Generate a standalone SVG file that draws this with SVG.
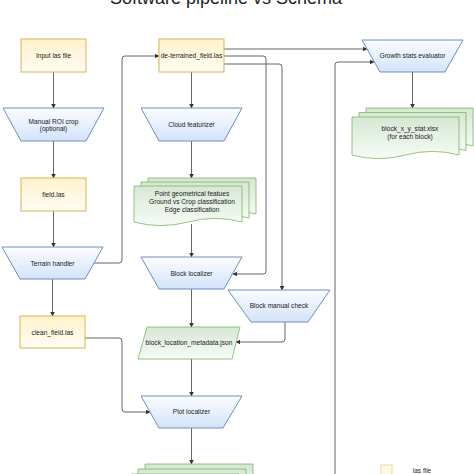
<svg xmlns="http://www.w3.org/2000/svg" width="474" height="474" viewBox="0 0 474 474">
<defs>
<linearGradient id="gy" x1="0" y1="0" x2="0" y2="1"><stop offset="0" stop-color="#fff2cc"/><stop offset="1" stop-color="#fffcf3"/></linearGradient>
<linearGradient id="gb" x1="0" y1="0" x2="0" y2="1"><stop offset="0" stop-color="#fbfdff"/><stop offset="1" stop-color="#d3e3fa"/></linearGradient>
<linearGradient id="gg" x1="0" y1="0" x2="0" y2="1"><stop offset="0" stop-color="#d5e8d4"/><stop offset="1" stop-color="#f7fbf6"/></linearGradient>
<marker id="ar" viewBox="0 0 10 10" refX="9" refY="5" markerWidth="4.5" markerHeight="4.5" orient="auto" markerUnits="userSpaceOnUse"><path d="M0,0 L10,5 L0,10 Z" fill="#333"/></marker>
<style>
.y{fill:url(#gy);stroke:#d6b656;stroke-width:1}
.b{fill:url(#gb);stroke:#6c8ebf;stroke-width:1}
.g{fill:url(#gg);stroke:#82b366;stroke-width:0.8}
.t{font-family:"Liberation Sans",Arial,sans-serif;font-size:6.6px;fill:#222;text-anchor:middle}
.c{fill:none;stroke:#555;stroke-width:0.9;marker-end:url(#ar)}
</style>
</defs>
<rect width="474" height="474" fill="#ffffff"/>
<text x="110" y="4" font-family="'Liberation Sans',Arial,sans-serif" font-size="18" fill="#222">Software pipeline vs Schema</text>

<g id="connectors">
<path class="c" d="M53.5,72 V108"/>
<path class="c" d="M53.5,141 V178"/>
<path class="c" d="M53.5,211 V247"/>
<path class="c" d="M52.5,279 V316"/>
<path class="c" d="M94,263 H119 Q122,263 122,260 V59 Q122,56 125,56 H159"/>
<path class="c" d="M85,338 H119 Q122,338 122,341 V409 Q122,412 125,412 H150"/>
<path class="c" d="M191.5,72 V108"/>
<path class="c" d="M191.5,141 V178"/>
<path class="c" d="M191.5,224 V257"/>
<path class="c" d="M191.5,289 V327"/>
<path class="c" d="M191.5,359 V396"/>
<path class="c" d="M191.5,428 V464"/>
<path class="c" d="M224,49 H367"/>
<path class="c" d="M224,56 H263 Q266,56 266,59 V271 Q266,274 263,274 H233"/>
<path class="c" d="M224,64 H279 Q282,64 282,67 V290"/>
<path class="c" d="M285,322 V339 Q285,342 282,342 H236"/>
<path class="c" d="M335,474 V65 Q335,62 338,62 H374"/>
<path class="c" d="M412.5,72 V108"/>
</g>

<g id="input"><rect class="y" x="21" y="39" width="65" height="33"/><text class="t" x="53.5" y="58">Input las file</text></g>
<g id="roi"><polygon class="b" points="3,108 104,108 86,141 21,141"/><text class="t" x="53.5" y="123.5">Manual ROI crop</text><text class="t" x="53.5" y="131">(optional)</text></g>
<g id="field"><rect class="y" x="21" y="178" width="65" height="33"/><text class="t" x="53.5" y="197">field.las</text></g>
<g id="terrain"><polygon class="b" points="2,247 103,247 85,279 20,279"/><text class="t" x="52.5" y="265.5">Terrain handler</text></g>
<g id="clean"><rect class="y" x="20" y="316" width="65" height="32"/><text class="t" x="52.5" y="334.5">clean_field.las</text></g>

<g id="deterrained"><rect class="y" x="159" y="39" width="65" height="33"/><text class="t" x="191.5" y="58">de-terrained_field.las</text></g>
<g id="cloud"><polygon class="b" points="141,108 242,108 224,141 159,141"/><text class="t" x="191.5" y="127">Cloud featurizer</text></g>
<g id="features">
<path class="g" d="M148,178 H256 V214 Q229,206.8 202,214 Q175,221.2 148,214 Z"/>
<path class="g" d="M141,182 H249 V218 Q222,210.8 195,218 Q168,225.2 141,218 Z"/>
<path class="g" d="M134,186 H242 V222 Q215,214.8 188,222 Q161,229.2 134,222 Z"/>
<text class="t" x="192" y="196.3">Point geometrical featues</text>
<text class="t" x="192" y="204.3">Ground vs Crop classification</text>
<text class="t" x="192" y="212.3">Edge classification</text>
</g>
<g id="blockloc"><polygon class="b" points="141,257 242,257 224,289 159,289"/><text class="t" x="191.5" y="276">Block localizer</text></g>
<g id="manualcheck"><polygon class="b" points="228,290 330,290 308,322 251,322"/><text class="t" x="279" y="308">Block manual check</text></g>
<g id="json"><polygon class="g" points="147,327 240,327 232,359 138,359"/><text class="t" x="189" y="345">block_location_metadata.json</text></g>
<g id="plotloc"><polygon class="b" points="141,396 242,396 223,428 159,428"/><text class="t" x="191.5" y="414">Plot localizer</text></g>
<g id="plotfiles">
<path class="g" d="M145,464 H253 V500 Q226,492.8 199,500 Q172,507.2 145,500 Z"/>
<path class="g" d="M138,469 H246 V505 Q219,497.8 192,505 Q165,512.2 138,505 Z"/>
<path class="g" d="M131,474 H239 V510 Q212,502.8 185,510 Q158,517.2 131,510 Z"/>
</g>

<g id="growth"><polygon class="b" points="362,40 463,40 445,72 380,72"/><text class="t" x="412.5" y="58">Growth stats evaluator</text></g>
<g id="stat">
<path class="g" d="M366,108 H473 V146 Q446.25,138.8 419.5,146 Q392.75,153.2 366,146 Z"/>
<path class="g" d="M359,112.5 H466 V150.5 Q439.25,143.3 412.5,150.5 Q385.75,157.7 359,150.5 Z"/>
<path class="g" d="M352,117 H459 V155 Q432.25,147.8 405.5,155 Q378.75,162.2 352,155 Z"/>
<text class="t" x="410" y="131.3">block_x_y_stat.xlsx</text>
<text class="t" x="410" y="139.3">(for each block)</text>
</g>

<g id="legend"><rect x="381" y="465" width="11" height="12" fill="#fff9e6" stroke="#e3cf8f" stroke-width="0.8"/><text x="422" y="473" font-family="'Liberation Sans',Arial,sans-serif" font-size="6.5" fill="#222" text-anchor="middle">las file</text></g>
</svg>
